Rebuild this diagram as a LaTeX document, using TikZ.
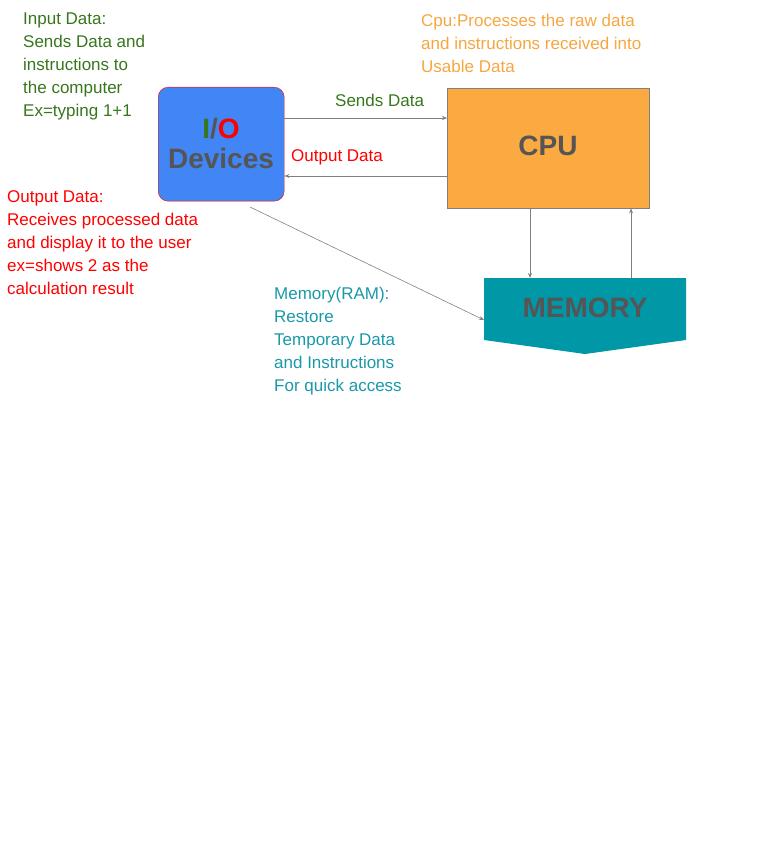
\documentclass[tikz,border=0pt]{standalone}
\usepackage{fontspec}
\setmainfont{Liberation Sans}
\usetikzlibrary{arrows.meta}
\definecolor{tgreen}{HTML}{38761D}
\definecolor{torange}{HTML}{F6A640}
\definecolor{tteal}{HTML}{1A98AA}
\definecolor{iob}{HTML}{4285F4}
\definecolor{cpuf}{HTML}{FBAA42}
\definecolor{memf}{HTML}{0097A7}
\definecolor{dgray}{HTML}{555555}
\tikzset{
 txt/.style={anchor=north west,align=left,inner sep=0pt,font=\fontsize{17}{23}\selectfont},
 big/.style={font=\fontsize{28}{30}\selectfont\bfseries,text=dgray},
 conn/.style={draw=gray,-{Stealth[length=5pt,width=4pt]},line width=0.6pt}
}
\begin{document}
\begin{tikzpicture}[x=1pt,y=-1pt]
\useasboundingbox (0,0) rectangle (768,866);
\node[draw=red,fill=iob,rounded corners=10pt,minimum width=126pt,minimum height=114pt,anchor=north west,inner sep=0pt] (io) at (158,87) {};
\node[big,align=center] at (221,143) {\textcolor{tgreen}{I}/\textcolor{red}{O}\\Devices};
\node[draw=gray,fill=cpuf,minimum width=202pt,minimum height=120pt,anchor=north west,inner sep=0pt] (cpu) at (447,88) {};
\node[big] at (548,146) {CPU};
\fill[memf] (484,278) -- (686,278) -- (686,340) -- (585,354) -- (484,340) -- cycle;
\coordinate (memw) at (484,320);
\coordinate (memt1) at (530,278);
\coordinate (memt2) at (631,278);
\node[big] (mem) at (585,308) {MEMORY};
\draw[conn] (io.north east|-0,118) -- (cpu.west|-0,118);
\draw[conn] (cpu.west|-0,176) -- (io.east|-0,176);
\draw[conn] (cpu.south-|memt1) -- (memt1);
\draw[conn] (memt2) -- (cpu.south-|memt2);
\coordinate (iob) at (250,207);
\draw[conn] (iob) -- (memw);
\node[txt,text=tgreen] at (23,13) {Input Data:\\Sends Data and\\instructions to\\the computer\\Ex=typing 1+1};
\node[txt,text=torange] at (421,14) {Cpu:Processes the raw data\\and instructions received into\\Usable Data};
\node[txt,text=red] at (7,190) {Output Data:\\Receives processed data\\and display it to the user\\ex=shows 2 as the\\calculation result};
\node[txt,text=tteal] at (274,287) {Memory(RAM):\\Restore\\Temporary Data\\and Instructions\\For quick access};
\node[txt,text=tgreen] at (335,94) {Sends Data};
\node[txt,text=red] at (291,149) {Output Data};
\end{tikzpicture}
\end{document}
